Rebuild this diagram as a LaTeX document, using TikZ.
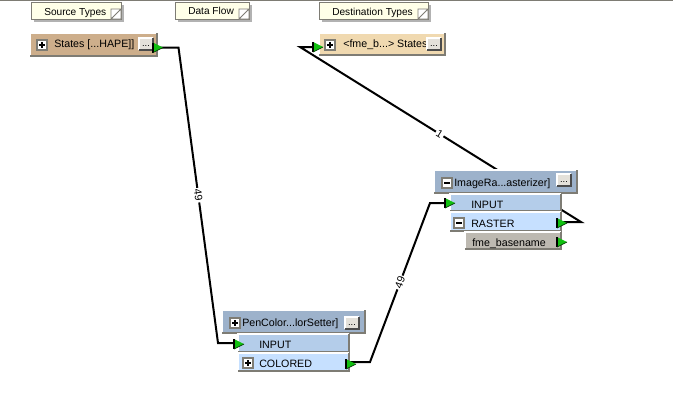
\documentclass[tikz,border=0pt]{standalone}
\usepackage{fontspec}
\setmainfont{Liberation Sans}
\definecolor{srccol}{HTML}{CDAE8B}
\definecolor{dstcol}{HTML}{F0D9B0}
\definecolor{hdrcol}{HTML}{9DB2CB}
\definecolor{inpcol}{HTML}{B4CDEA}
\definecolor{outcol}{HTML}{C6E0FF}
\definecolor{attrcol}{HTML}{BDB9B1}
\definecolor{notecol}{HTML}{FFFFE8}
\definecolor{btncol}{HTML}{E4E1DA}
\definecolor{edgecol}{HTML}{7E7C74}
\definecolor{portgreen}{HTML}{10C010}
\tikzset{
  panel/.style={inner sep=0pt,outer sep=0pt,anchor=north west},
  txt/.style={inner sep=0pt,anchor=base west,font=\fontsize{8}{9}\selectfont},
  notetxt/.style={inner sep=0pt,anchor=base west,font=\fontsize{7.6}{9}\selectfont},
  conn/.style={line width=1.5pt,black},
  count/.style={fill=white,inner sep=1pt,font=\fontsize{8}{9}\selectfont},
}
% bevelled panel: name, x1, y1, x2, y2, colour
\newcommand{\bevbox}[6]{%
  \pgfmathsetmacro{\bw}{(#4-#2)*0.75}\pgfmathsetmacro{\bh}{(#5-#3)*0.75}%
  \node[panel,fill=#6,minimum width=\bw pt,minimum height=\bh pt] (#1) at (#2,#3) {};
  \draw[white,line width=0.9pt] (#1.south west) -- (#1.north west) -- (#1.north east);
  \draw[edgecol,line width=0.9pt] (#1.south west) -- (#1.south east) -- (#1.north east);
}
% note: name, x1, y1, x2, y2, text baseline y, text
\newcommand{\notebox}[7]{%
  \pgfmathsetmacro{\bw}{(#4-#2)*0.75}\pgfmathsetmacro{\bh}{(#5-#3)*0.75}%
  \fill[black!30] (#2+3,#3+3) rectangle (#4+3,#5+3);
  \node[panel,draw=edgecol,line width=0.75pt,fill=notecol,minimum width=\bw pt,minimum height=\bh pt] (#1) at (#2,#3) {};
  \draw[edgecol,line width=0.6pt,fill=white] (#4-10,#5) rectangle (#4,#5-10) (#4-10,#5) -- (#4,#5-10);
  \node[notetxt] (#1t) at (#2+13,#6) {#7};
}
% expander box: name, x, y, symbol (1 = plus, 0 = minus)
\newcommand{\expander}[4]{%
  \node[panel,draw=edgecol,line width=1.5pt,fill=white,minimum width=7.5pt,minimum height=7.5pt] (#1) at (#2,#3) {};
  \draw[black,line width=1.3pt] (#2+2,#3+5) -- (#2+8,#3+5);
  \ifnum#4=1 \draw[black,line width=1.3pt] (#2+5,#3+2) -- (#2+5,#3+8);\fi
}
% "..." button: name, x, y
\newcommand{\dotsbtn}[3]{%
  \node[panel,fill=btncol,minimum width=10.5pt,minimum height=9pt] (#1) at (#2,#3) {};
  \draw[white,line width=0.8pt] (#1.south west) -- (#1.north west) -- (#1.north east);
  \draw[black!70,line width=0.8pt] (#1.south west) -- (#1.south east) -- (#1.north east);
  \node[inner sep=0pt,font=\fontsize{7}{8}\selectfont,yshift=-1.6pt] (#1t) at (#1.center) {...};
}
% port arrow: name, x, y (tip end to the right)
\newcommand{\portarrow}[3]{%
  \coordinate (#1) at (#2,#3);
  \fill[portgreen] (#2,#3-5) -- (#2+10,#3) -- (#2,#3+5) -- cycle;
  \draw[black,line width=0.9pt] (#2,#3-5) -- (#2,#3+5);
  \draw[black!70!portgreen,line width=0.5pt] (#2,#3+5) -- (#2+10,#3);
}
\begin{document}
\begin{tikzpicture}[x=0.75pt,y=-0.75pt]
\useasboundingbox (0,0) rectangle (673,418);
\fill[white] (0,0) rectangle (673,418);
\fill[edgecol] (0,0) rectangle (673,1);

% connector coordinates
\coordinate (srcport) at (157,47.5);
\coordinate (srcbend) at (178.5,47.5);
\coordinate (penin) at (233,343);
\coordinate (penbend) at (218,343);
\coordinate (penout) at (350,362);
\coordinate (outbend) at (370,362);
\coordinate (imgin) at (445,203);
\coordinate (imgbend) at (430,203);
\coordinate (rastout) at (561,222);
\coordinate (rastbend) at (581,222);
\coordinate (dstbend) at (300,47);
\coordinate (dstin) at (320,47);

% connectors lie beneath the panels
\draw[conn] (srcport) -- (srcbend) -- node[count,pos=0.5,sloped] (c49a) {49} (penbend) -- (penin);
\draw[conn] (penout) -- (outbend) -- node[count,pos=0.5,sloped] (c49b) {49} (imgbend) -- (imgin);
\draw[conn] (rastout) -- (rastbend) -- node[count,pos=0.503,sloped] (c1) {1} (dstbend) -- (dstin);

% annotations
\notebox{nsrc}{31}{2}{121}{19}{15}{Source Types}
\notebox{nflow}{175}{2}{249}{19}{14}{Data Flow}
\notebox{ndst}{319}{2}{428}{19}{15}{Destination Types}

% source feature type
\bevbox{src}{30}{33}{157}{56}{srccol}
\expander{srcx}{37}{40}{1}
\node[txt] (srct) at (54,47) {States [...HAPE]]};
\dotsbtn{srcb}{139}{38}
\portarrow{srcp}{153}{47.5}

% destination feature type
\bevbox{dst}{319}{33}{445}{55}{dstcol}
\expander{dstx}{325}{40}{1}
\node[txt] (dstt) at (343,47) {<fme\_b...> States};
\dotsbtn{dstb}{427}{38}
\portarrow{dstp}{313}{47}

% ImageRasterizer
\bevbox{imgh}{434}{170}{577}{193}{hdrcol}
\expander{imgx}{442}{178}{0}
\node[txt] (imgt) at (454,186) {ImageRa...asterizer]};
\dotsbtn{imgb}{557}{174}
\bevbox{imgi}{450}{194}{561}{211}{inpcol}
\node[txt] (imgit) at (471,208) {INPUT};
\bevbox{imgr}{450}{212}{561}{231}{outcol}
\expander{imgrx}{454}{218}{0}
\node[txt] (imgrt) at (471,227) {RASTER};
\bevbox{imga}{465}{232}{561}{249}{attrcol}
\node[txt] (imgat) at (472,246) {fme\_basename};
\portarrow{imgp}{445}{203}
\portarrow{imgq}{557}{223}
\portarrow{imgs}{557}{242}

% PenColorSetter
\bevbox{penh}{222}{310}{365}{333}{hdrcol}
\expander{penx}{230}{318}{1}
\node[txt] (pent) at (242,326) {PenColor...lorSetter]};
\dotsbtn{penb}{345}{317}
\bevbox{peni}{238}{334}{349}{352}{inpcol}
\node[txt] (penit) at (259,348) {INPUT};
\bevbox{penc}{238}{353}{349}{371}{outcol}
\expander{pencx}{243}{358}{1}
\node[txt] (penct) at (259,367) {COLORED};
\portarrow{penp}{234}{344}
\portarrow{penq}{346}{364}
\end{tikzpicture}
\end{document}
